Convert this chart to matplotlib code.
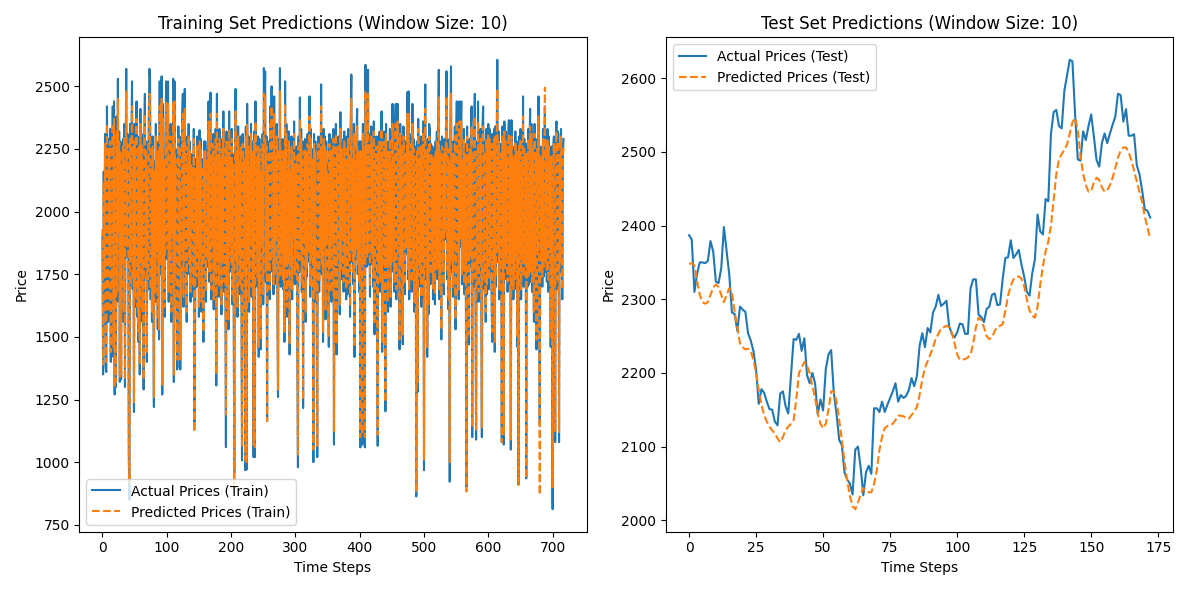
import numpy as np
import matplotlib
matplotlib.use("Agg")
import matplotlib.pyplot as plt

window_size = 10

# training set: actual vs predicted prices (approximate)
train_actual = [
    1900, 1350, 2160, 1720, 2310, 1380, 1360, 2420, 2010, 1560, 2290, 1780, 2330, 1400, 2180, 1650, 2420, 1420, 2440, 1270,
    2250, 1300, 2380, 1640, 2530, 1890, 2320, 1320, 2280, 1330, 2210, 1770, 2290, 1560, 2350, 1300, 2200, 2570, 1820, 2310,
    2120, 1010, 850, 2350, 1760, 2260, 2520, 1690, 2300, 1200, 2350, 1620, 2180, 2440, 1580, 2290, 1480, 2300, 1350, 2410,
    1780, 2310, 1560, 2250, 1290, 2300, 2470, 1740, 2280, 1400, 2190, 1690, 2360, 2570, 2530, 1650, 2240, 1560, 2300, 1780,
    1220, 2200, 1640, 2350, 1810, 2260, 1530, 2280, 1490, 2520, 1750, 2340, 2540, 1270, 2430, 1690, 2250, 1580, 2310, 2520,
    1810, 2290, 2520, 1640, 2230, 1790, 2350, 1560, 2290, 1880, 2530, 1320, 2520, 1690, 2250, 1650, 1370, 1380, 2340, 1740,
    2300, 1370, 2160, 1780, 2380, 2470, 1620, 2250, 2490, 1760, 2300, 1560, 2240, 1850, 2350, 1750, 2280, 1640, 2230, 1900,
    2180, 1660, 2330, 1160, 1540, 2210, 1700, 2300, 1820, 2250, 1580, 2325, 1790, 2290, 1600, 2210, 1830, 1480, 2280, 1780,
    2280, 1640, 2240, 1860, 1780, 2440, 1720, 2300, 2475, 1650, 2250, 1850, 2310, 1610, 2250, 1730, 2330, 1306, 2470, 1780,
    2250, 1660, 2330, 1780, 2240, 1590, 2290, 1760, 2400, 1680, 2290, 1850, 1060, 2320, 1690, 2260, 1530, 2400, 1840, 2250,
    1760, 2330, 1630, 2230, 1700, 955, 2200, 2490, 1760, 2280, 1580, 2340, 1800, 2250, 1670, 2300, 1760, 1007, 2310, 1700,
    2250, 1780, 968, 2340, 970, 2430, 1760, 2300, 1600, 2210, 1840, 2350, 1660, 2280, 1790, 1020, 2320, 1020, 2440, 1810,
    2260, 1700, 2300, 1420, 2290, 1790, 1450, 2200, 1840, 2310, 1630, 2573, 2400, 2560, 1720, 2300, 1164, 2210, 1730, 2280,
    1650, 2420, 1760, 2500, 1800, 2270, 1670, 2460, 1710, 2250, 1880, 2350, 1630, 1260, 2290, 1790, 2573, 1700, 2240, 1810,
    2290, 1690, 2270, 1480, 2520, 1760, 2350, 1580, 2210, 1770, 2320, 1430, 2190, 1740, 2300, 1650, 2250, 1880, 2360, 1710,
    2230, 1780, 2260, 1450, 980, 2300, 1760, 2456, 1810, 2330, 1680, 2240, 1216, 2280, 1850, 2290, 1560, 2270, 1740, 2310,
    1800, 2290, 2460, 1660, 2330, 1770, 2250, 1840, 1000, 2310, 1640, 2280, 1820, 1650, 1020, 2260, 2300, 1680, 2290, 1800,
    2508, 1750, 2300, 1480, 2330, 1830, 2300, 1570, 2280, 1840, 2190, 1670, 1460, 2310, 1760, 2280, 1640, 2290, 1850, 2330,
    1070, 2260, 1720, 2350, 1430, 2290, 1780, 2300, 1860, 1590, 2397, 1730, 2290, 1870, 2230, 1680, 2320, 1740, 2250, 1650,
    2300, 1670, 2330, 1790, 2260, 1580, 2340, 2547, 1800, 2240, 1710, 2350, 1420, 2250, 1810, 2300, 2410, 1750, 2280, 1680,
    2280, 1059, 2280, 1830, 1070, 2350, 1760, 2300, 1059, 2586, 2250, 1780, 2330, 2566, 1790, 2310, 1660, 2240, 2340, 1790,
    2290, 1700, 2360, 1510, 2270, 1840, 2300, 1670, 1065, 2300, 1750, 2320, 1680, 2210, 2400, 1440, 2280, 1760, 2320, 1790,
    1203, 2350, 1740, 2270, 1600, 2280, 1750, 2330, 1620, 2240, 1760, 2430, 1810, 2260, 1680, 2320, 2430, 1650, 2290, 2430,
    1800, 2280, 1450, 2350, 1750, 2300, 1710, 1470, 2340, 2290, 1670, 2280, 1830, 2200, 2476, 1730, 2480, 1650, 2260, 1790,
    2310, 1680, 2430, 1750, 2290, 1600, 2260, 2230, 863, 2280, 1280, 2370, 1760, 2250, 1700, 2300, 1620, 2280, 1780, 2360,
    968, 2260, 2508, 1730, 2280, 1420, 2290, 1590, 2350, 2330, 1710, 2270, 1790, 2260, 1650, 2250, 1800, 1630, 2280, 1740,
    2320, 1730, 2300, 2566, 1650, 2280, 1760, 1490, 2300, 1740, 2260, 1670, 2290, 1890, 2280, 2560, 1730, 2290, 1610, 2230,
    922, 2310, 2580, 1760, 2270, 1660, 2280, 1820, 2340, 1530, 2280, 2440, 1790, 2290, 1650, 2440, 1860, 2300, 2440, 1710,
    2250, 1730, 2330, 1670, 2270, 1790, 900, 2340, 1760, 2260, 1470, 2290, 1780, 2340, 2420, 1100, 2260, 1700, 2280, 2470,
    1710, 1090, 2280, 1720, 2440, 1640, 2290, 1750, 2330, 1660, 1100, 2350, 2420, 1690, 2280, 1800, 1560, 2330, 1670, 2240,
    2350, 1690, 2330, 1760, 2310, 1690, 1480, 2310, 1760, 2330, 1440, 2340, 1700, 2280, 2606, 1800, 2320, 1650, 2270, 1750,
    2270, 1080, 2340, 1690, 1070, 2360, 1730, 2320, 1780, 2260, 1680, 2300, 2365, 1710, 2310, 1050, 2365, 1790, 2260, 1650,
    2240, 1690, 2320, 1770, 2280, 1460, 2260, 910, 2300, 1790, 2330, 1650, 2240, 1780, 2460, 1700, 2290, 1760, 2270, 935,
    2270, 1700, 2330, 1710, 2240, 2410, 1720, 2350, 1680, 2290, 1780, 1560, 2350, 1730, 2260, 1450, 2290, 1790, 2460, 1740,
    1150, 2260, 1780, 2250, 1700, 2330, 1740, 2190, 2420, 1760, 2300, 1720, 2330, 1680, 2300, 1830, 2250, 1460, 2260, 1790,
    812, 2250, 2300, 1780, 1080, 2300, 2360, 1690, 2320, 2310, 1080, 2250, 1760, 2330, 2180, 1650, 2240, 2290,
]

train_pred = [
    1930, 1390, 2120, 1760, 2270, 1420, 1400, 2350, 2040, 1600, 2250, 1810, 2280, 1440, 2150, 1690, 2350, 1460, 2370, 1300,
    2200, 1320, 2320, 1680, 2450, 1920, 2280, 1340, 2240, 1350, 2180, 1800, 2260, 1600, 2300, 1330, 2170, 2480, 1860, 2270,
    2090, 1060, 920, 2290, 1800, 2220, 2420, 1730, 2260, 1240, 2290, 1660, 2150, 2370, 1620, 2250, 1520, 2260, 1390, 2350,
    1820, 2270, 1600, 2210, 1330, 2250, 2390, 1780, 2240, 1440, 2160, 1730, 2310, 2470, 2460, 1690, 2200, 1600, 2260, 1810,
    1260, 2160, 1680, 2300, 1840, 2220, 1570, 2240, 1530, 2420, 1790, 2300, 2450, 1310, 2370, 1730, 2210, 1620, 2270, 2440,
    1850, 2250, 2430, 1680, 2190, 1820, 2300, 1600, 2250, 1910, 2440, 1350, 2440, 1730, 2210, 1690, 1410, 1410, 2290, 1780,
    2260, 1410, 2120, 1810, 2330, 2390, 1660, 2210, 2410, 1800, 2260, 1600, 2200, 1880, 2300, 1790, 2240, 1680, 2190, 1930,
    2150, 1700, 2290, 1120, 1580, 2170, 1740, 2260, 1850, 2210, 1620, 2280, 1830, 2250, 1640, 2180, 1860, 1520, 2240, 1820,
    2240, 1680, 2210, 1890, 1810, 2360, 1760, 2260, 2390, 1690, 2210, 1880, 2270, 1650, 2220, 1770, 2290, 1350, 2390, 1820,
    2210, 1700, 2290, 1810, 2210, 1630, 2250, 1800, 2330, 1720, 2250, 1880, 1190, 2280, 1730, 2220, 1570, 2330, 1870, 2210,
    1800, 2290, 1670, 2190, 1740, 900, 2160, 2400, 1800, 2240, 1620, 2300, 1830, 2210, 1710, 2260, 1800, 1060, 2270, 1740,
    2210, 1820, 1010, 2300, 1000, 2350, 1800, 2260, 1640, 2170, 1870, 2310, 1700, 2240, 1820, 1070, 2280, 1060, 2360, 1850,
    2220, 1740, 2260, 1460, 2250, 1820, 1490, 2160, 1870, 2270, 1670, 2470, 2380, 2460, 1760, 2260, 1164, 2170, 1770, 2240,
    1690, 2350, 1800, 2420, 1830, 2230, 1710, 2390, 1750, 2210, 1910, 2300, 1670, 1290, 2250, 1830, 2480, 1740, 2200, 1840,
    2250, 1730, 2230, 1520, 2430, 1800, 2310, 1620, 2170, 1810, 2280, 1470, 2150, 1780, 2260, 1690, 2210, 1910, 2310, 1750,
    2190, 1820, 2220, 1490, 1030, 2260, 1800, 2370, 1850, 2290, 1720, 2200, 1250, 2240, 1880, 2250, 1600, 2230, 1780, 2270,
    1840, 2250, 2380, 1700, 2290, 1810, 2210, 1870, 1050, 2270, 1680, 2240, 1850, 1690, 1060, 2220, 2270, 1720, 2250, 1840,
    2420, 1790, 2260, 1520, 2290, 1860, 2260, 1610, 2240, 1870, 2150, 1710, 1500, 2270, 1800, 2240, 1680, 2250, 1880, 2290,
    1120, 2220, 1760, 2310, 1470, 2250, 1820, 2260, 1890, 1630, 2330, 1770, 2250, 1900, 2190, 1720, 2280, 1780, 2210, 1690,
    2260, 1710, 2290, 1820, 2220, 1620, 2300, 2450, 1840, 2200, 1750, 2310, 1460, 2210, 1850, 2260, 2340, 1790, 2240, 1720,
    2240, 1100, 2240, 1860, 1110, 2310, 1800, 2260, 1100, 2480, 2270, 1820, 2290, 2470, 1830, 2270, 1700, 2200, 2300, 1830,
    2250, 1740, 2320, 1550, 2230, 1870, 2260, 1710, 1110, 2260, 1790, 2280, 1720, 2170, 2330, 1480, 2240, 1800, 2280, 1830,
    1240, 2310, 1780, 2230, 1640, 2240, 1790, 2290, 1660, 2200, 1800, 2350, 1850, 2220, 1720, 2280, 2350, 1690, 2250, 2360,
    1840, 2240, 1490, 2310, 1790, 2260, 1750, 1510, 2300, 2260, 1710, 2240, 1860, 2160, 2390, 1770, 2390, 1690, 2220, 1830,
    2270, 1720, 2350, 1790, 2250, 1640, 2220, 2200, 880, 2240, 1320, 2330, 1800, 2210, 1740, 2260, 1660, 2240, 1820, 2320,
    1010, 2220, 2410, 1770, 2240, 1460, 2250, 1630, 2300, 2290, 1750, 2230, 1830, 2220, 1690, 2210, 1840, 1670, 2240, 1780,
    2280, 1770, 2260, 2460, 1690, 2240, 1800, 1530, 2260, 1780, 2220, 1710, 2250, 1920, 2240, 2460, 1770, 2250, 1650, 2190,
    1000, 2270, 2470, 1800, 2230, 1700, 2240, 1860, 2300, 1570, 2240, 2360, 1830, 2250, 1690, 2360, 1890, 2260, 2360, 1750,
    2210, 1770, 2290, 1710, 2230, 1830, 883, 2300, 1800, 2220, 1510, 2250, 1820, 2300, 2340, 1140, 2220, 1740, 2240, 2380,
    1750, 1130, 2240, 1760, 2360, 1680, 2250, 1790, 2290, 1700, 1140, 2310, 2340, 1730, 2240, 1840, 1600, 2290, 1710, 2200,
    2310, 1730, 2290, 1800, 2270, 1730, 1520, 2270, 1800, 2290, 1480, 2300, 1740, 2240, 2490, 1840, 2280, 1690, 2230, 1790,
    2230, 1080, 2300, 1730, 1110, 2320, 1770, 2280, 1820, 2220, 1720, 2260, 2310, 1750, 2270, 1090, 2300, 1830, 2220, 1690,
    2200, 1730, 2280, 1810, 2240, 1500, 2220, 910, 2260, 1830, 2290, 1690, 2200, 1820, 2380, 1740, 2250, 1800, 2230, 935,
    2230, 1740, 2290, 1750, 2200, 2340, 1760, 2310, 1720, 2250, 1820, 1600, 2310, 1770, 2220, 1490, 2250, 1830, 2380, 1780,
    870, 2220, 1820, 2210, 1740, 2290, 1780, 2160, 2495, 1800, 2260, 1760, 2290, 1720, 2260, 1860, 2210, 1500, 2220, 1830,
    900, 2210, 2270, 1820, 1120, 2260, 2320, 1730, 2280, 2280, 1120, 2220, 1800, 2300, 2200, 1690, 2210, 2270,
]

# test set
test_actual = [
    2387, 2381, 2310, 2335, 2350, 2350, 2349, 2352, 2379, 2365,
    2324, 2322, 2342, 2398, 2365, 2333, 2282, 2280, 2257, 2290,
    2286, 2283, 2254, 2244, 2230, 2205, 2158, 2178, 2173, 2161,
    2151, 2150, 2134, 2129, 2172, 2175, 2155, 2145, 2196, 2246,
    2245, 2253, 2230, 2247, 2197, 2186, 2200, 2186, 2144, 2164,
    2149, 2205, 2225, 2231, 2173, 2145, 2109, 2102, 2065, 2055,
    2050, 2035, 2096, 2100, 2072, 2034, 2065, 2074, 2063, 2152,
    2152, 2147, 2161, 2147, 2157, 2166, 2175, 2186, 2161, 2170,
    2166, 2169, 2177, 2193, 2182, 2196, 2237, 2254, 2235, 2261,
    2255, 2282, 2290, 2306, 2291, 2294, 2298, 2264, 2253, 2248,
    2255, 2267, 2266, 2253, 2253, 2315, 2327, 2327, 2279, 2276,
    2269, 2287, 2290, 2306, 2308, 2292, 2293, 2328, 2356, 2357,
    2380, 2356, 2361, 2367, 2347, 2331, 2310, 2305, 2335, 2354,
    2415, 2392, 2388, 2436, 2433, 2525, 2554, 2557, 2535, 2532,
    2583, 2604, 2625, 2623, 2551, 2490, 2488, 2528, 2516, 2535,
    2551, 2521, 2489, 2480, 2512, 2525, 2512, 2525, 2537, 2548,
    2579, 2577, 2541, 2558, 2522, 2522, 2524, 2482, 2470, 2448,
    2422, 2420, 2411,
]

test_pred = [
    2348, 2349, 2346, 2324, 2306, 2296, 2294, 2296, 2306, 2316,
    2320, 2317, 2306, 2296, 2306, 2315, 2308, 2284, 2262, 2240,
    2235, 2232, 2233, 2230, 2218, 2200, 2177, 2157, 2143, 2134,
    2127, 2122, 2118, 2111, 2106, 2113, 2122, 2127, 2131, 2136,
    2164, 2200, 2207, 2215, 2210, 2200, 2182, 2166, 2145, 2131,
    2125, 2131, 2150, 2175, 2175, 2161, 2136, 2109, 2079, 2054,
    2033, 2019, 2015, 2024, 2035, 2044, 2040, 2038, 2038, 2049,
    2067, 2095, 2113, 2125, 2128, 2129, 2131, 2136, 2142, 2142,
    2141, 2139, 2138, 2143, 2147, 2154, 2170, 2191, 2207, 2216,
    2225, 2235, 2246, 2253, 2260, 2262, 2264, 2262, 2255, 2241,
    2225, 2218, 2218, 2219, 2221, 2225, 2240, 2262, 2275, 2272,
    2262, 2250, 2246, 2248, 2257, 2262, 2264, 2266, 2285, 2305,
    2318, 2327, 2330, 2331, 2328, 2318, 2300, 2285, 2278, 2275,
    2290, 2320, 2345, 2365, 2378, 2400, 2435, 2470, 2490, 2497,
    2503, 2510, 2525, 2540, 2546, 2530, 2495, 2470, 2455, 2446,
    2447, 2458, 2465, 2462, 2452, 2446, 2448, 2455, 2465, 2478,
    2492, 2502, 2506, 2506, 2500, 2488, 2475, 2460, 2446, 2432,
    2412, 2398, 2382,
]

fig = plt.figure(figsize=(11.89, 5.9), dpi=100)

# Training
plt.subplot(1, 2, 1)
plt.plot(np.arange(len(train_actual)), train_actual, label='Actual Prices (Train)')
plt.plot(np.arange(len(train_pred)), train_pred, label='Predicted Prices (Train)', linestyle='--')
plt.title(f'Training Set Predictions (Window Size: {window_size})')
plt.xlabel('Time Steps')
plt.ylabel('Price')
plt.legend(loc='lower left')

# Test
plt.subplot(1, 2, 2)
plt.plot(np.arange(len(test_actual)), test_actual, label='Actual Prices (Test)')
plt.plot(np.arange(len(test_pred)), test_pred, label='Predicted Prices (Test)', linestyle='--')
plt.title(f'Test Set Predictions (Window Size: {window_size})')
plt.xlabel('Time Steps')
plt.ylabel('Price')
plt.legend(loc='upper left')

plt.tight_layout()
plt.savefig('out.png', dpi=100)
